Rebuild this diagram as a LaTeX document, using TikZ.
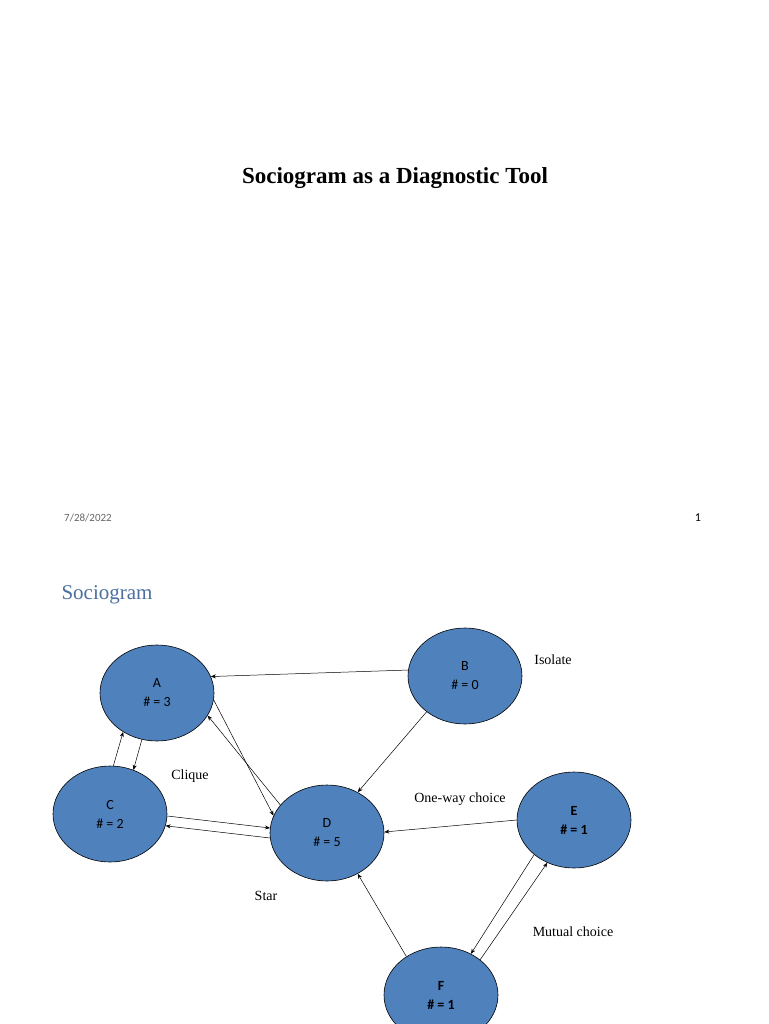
\documentclass[tikz,border=0pt]{standalone}
\usepackage{fontspec}
\setmainfont{Liberation Serif}
\newfontfamily\calibri{Carlito}
\usetikzlibrary{shapes.geometric,arrows.meta}
\definecolor{nodeblue}{HTML}{4F81BD}
\definecolor{headblue}{HTML}{4A6FA0}
\begin{document}
\begin{tikzpicture}[x=1pt,y=-1pt,
  person/.style={ellipse,draw=black,line width=0.6pt,fill=nodeblue,minimum width=114pt,minimum height=96pt,inner sep=0pt,align=center,font=\calibri\fontsize{14}{19}\selectfont},
  lab/.style={font=\fontsize{14}{16}\selectfont},
  link/.style={-{Stealth[length=5pt,width=4pt]},line width=0.5pt}]
\useasboundingbox (0,0) rectangle (768,1024);
\node (title) at (395,178) {\fontsize{23}{26}\selectfont\bfseries Sociogram as a Diagnostic Tool};
\node[text=gray!80!black,font=\calibri\fontsize{11}{12}\selectfont] (date) at (88,518) {7/28/2022};
\node[font=\calibri\fontsize{12}{13}\selectfont] (pg) at (698,518) {1};
\node[text=headblue,anchor=west,font=\fontsize{21}{24}\selectfont] (head) at (58,595) {Sociogram};
\node[person] (A) at (157,693) {A\\\# = 3};
\node[person] (B) at (465,676) {B\\\# = 0};
\node[person] (C) at (110,814) {C\\\# = 2};
\node[person] (D) at (327,833) {D\\\# = 5};
\node[person,font=\calibri\bfseries\fontsize{14}{19}\selectfont] (E) at (574,820) {E\\\# = 1};
\node[person,font=\calibri\bfseries\fontsize{14}{19}\selectfont] (F) at (441,995) {F\\\# = 1};
\node[lab] (iso) at (553,660) {Isolate};
\node[lab] (cli) at (190,776) {Clique};
\node[lab] (one) at (460,799) {One-way choice};
\node[lab] (star) at (266,896) {Star};
\node[lab] (mut) at (573,932) {Mutual choice};
\draw[link] (B.174) -- (A.17);
\draw[link] (B.-137) -- (D.53);
\draw[link] (A.-7) -- (D.162);
\draw[link] (D.149) -- (A.-24);
\draw[link] (C.86) -- (A.-131);
\draw[link] (A.-108) -- (C.62);
\draw[link] (C.-2) -- (D.175);
\draw[link] (D.-175) -- (C.-12);
\draw[link] (E.180) -- (D.1);
\draw[link] (F.132) -- (D.-53);
\draw[link] (E.-139) -- (F.54);
\draw[link] (F.42) -- (E.-122);
\end{tikzpicture}
\end{document}
